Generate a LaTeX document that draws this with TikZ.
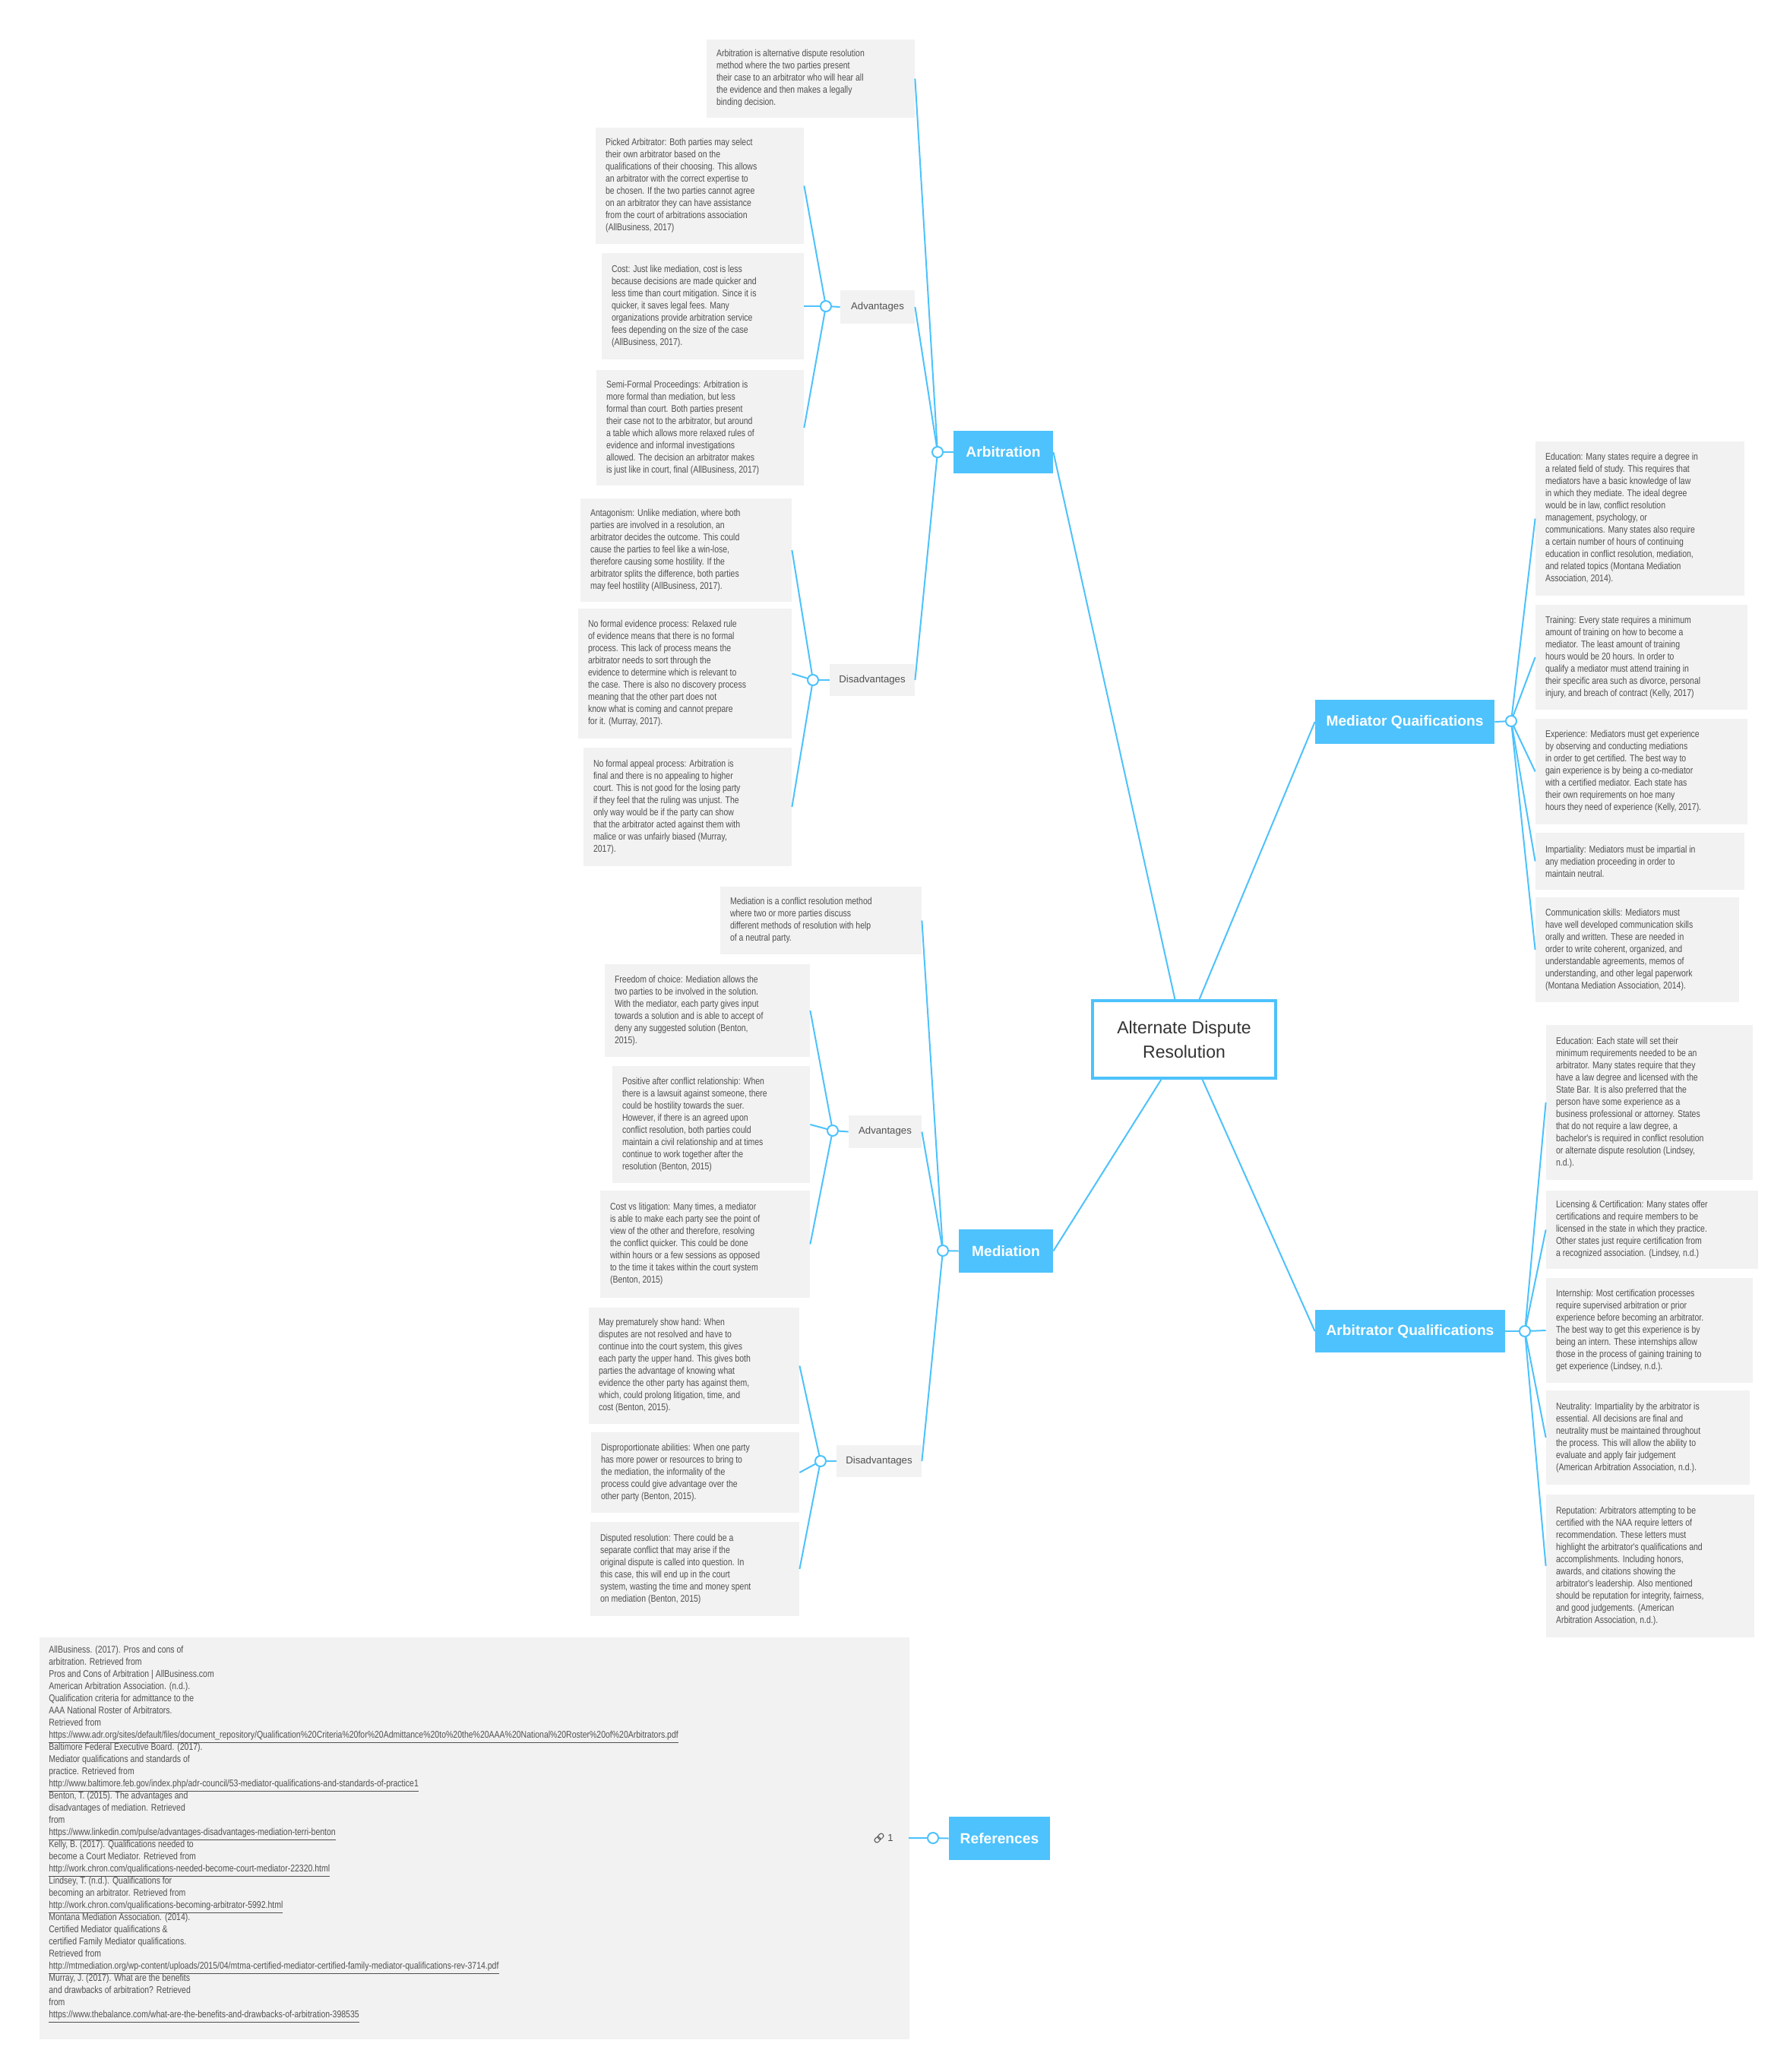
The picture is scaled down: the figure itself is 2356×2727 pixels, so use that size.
\documentclass[tikz,border=0pt]{standalone}
\usepackage{fontspec}
\setmainfont{Liberation Sans}
\newfontfamily\leaffont[FakeStretch=0.82]{Liberation Sans}
\usetikzlibrary{fit}
\definecolor{mblue}{HTML}{4DC2FC}
\definecolor{lgray}{HTML}{F2F2F2}
\definecolor{tgray}{HTML}{505050}
\tikzset{
  leaf/.style={fill=lgray,draw=none,inner sep=0pt},
  leaftext/.style={text=tgray,align=left,inner sep=0pt,font=\leaffont\fontsize{6.4}{8}\selectfont},
  sublbl/.style={fill=lgray,text=tgray,inner sep=0pt,font=\fontsize{6.6}{8}\selectfont},
  mainbox/.style={fill=mblue,text=white,inner sep=0pt,font=\bfseries\fontsize{9.6}{11}\selectfont},
  conn/.style={draw=mblue,line width=1pt},
  dot/.style={circle,draw=mblue,fill=white,line width=1pt,minimum size=7pt,inner sep=0pt},
}
\newcommand\leafbox[6]{\node[leaf,fit={(#2,#3) (#4,#5)}] (#1) {};
  \node[leaftext,anchor=west] at ([xshift=6.5pt]#1.west) {#6};}
\newcommand\subbox[6]{\node[sublbl,fit={(#2,#3) (#4,#5)}] (#1) {};
  \node[text=tgray,font=\fontsize{6.6}{8}\selectfont,inner sep=0pt] at (#1.center) {#6};}
\newcommand\mainnode[6]{\node[mainbox,fit={(#2,#3) (#4,#5)}] (#1) {};
  \node[text=white,font=\bfseries\fontsize{9.6}{11}\selectfont,inner sep=0pt] at (#1.center) {#6};}
\newcommand\lk[1]{\underline{#1}}
\begin{document}
\begin{tikzpicture}[x=0.5pt,y=-0.5pt]
\useasboundingbox (0,0) rectangle (2356,2727);
\fill[white] (0,0) rectangle (2356,2727);
% central
\node[draw=mblue,line width=1.6pt,fill=white,fit={(1438,1317) (1679,1419)},inner sep=0pt] (central) {};
\node[text=black!80,align=center,font=\fontsize{11.5}{16}\selectfont] at (central.center) {Alternate Dispute\\Resolution};
% main
\mainnode{arb}{1255}{567}{1386}{623}{Arbitration}
\mainnode{mq}{1731}{921}{1967}{979}{Mediator Quaifications}
\mainnode{aq}{1731}{1724}{1981}{1780}{Arbitrator Qualifications}
\mainnode{med}{1262}{1618}{1386}{1675}{Mediation}
\mainnode{refs}{1249}{2391}{1382}{2448}{References}
% arbitration leaves
\leafbox{arbd}{930}{52}{1204}{155}{Arbitration is alternative dispute resolution\\method where the two parties present\\their case to an arbitrator who will hear all\\the evidence and then makes a legally\\binding decision.}
\subbox{aadv}{1106}{382}{1204}{426}{Advantages}
\leafbox{pick}{784}{168}{1058}{321}{Picked Arbitrator: Both parties may select\\their own arbitrator based on the\\qualifications of their choosing. This allows\\an arbitrator with the correct expertise to\\be chosen. If the two parties cannot agree\\on an arbitrator they can have assistance\\from the court of arbitrations association\\(AllBusiness, 2017)}
\leafbox{acost}{792}{333}{1058}{473}{Cost: Just like mediation, cost is less\\because decisions are made quicker and\\less time than court mitigation. Since it is\\quicker, it saves legal fees. Many\\organizations provide arbitration service\\fees depending on the size of the case\\(AllBusiness, 2017).}
\leafbox{semi}{785}{487}{1058}{639}{Semi-Formal Proceedings: Arbitration is\\more formal than mediation, but less\\formal than court. Both parties present\\their case not to the arbitrator, but around\\a table which allows more relaxed rules of\\evidence and informal investigations\\allowed. The decision an arbitrator makes\\is just like in court, final (AllBusiness, 2017)}
\subbox{adis}{1092}{874}{1204}{916}{Disadvantages}
\leafbox{anta}{764}{656}{1042}{792}{Antagonism: Unlike mediation, where both\\parties are involved in a resolution, an\\arbitrator decides the outcome. This could\\cause the parties to feel like a win-lose,\\therefore causing some hostility. If the\\arbitrator splits the difference, both parties\\may feel hostility (AllBusiness, 2017).}
\leafbox{noev}{761}{801}{1042}{972}{No formal evidence process: Relaxed rule\\of evidence means that there is no formal\\process. This lack of process means the\\arbitrator needs to sort through the\\evidence to determine which is relevant to\\the case. There is also no discovery process\\meaning that the other part does not\\know what is coming and cannot prepare\\for it. (Murray, 2017).}
\leafbox{noap}{768}{984}{1042}{1140}{No formal appeal process: Arbitration is\\final and there is no appealing to higher\\court. This is not good for the losing party\\if they feel that the ruling was unjust. The\\only way would be if the party can show\\that the arbitrator acted against them with\\malice or was unfairly biased (Murray,\\2017).}
% mediator qualifications
\leafbox{medu}{2021}{581}{2296}{784}{Education: Many states require a degree in\\a related field of study. This requires that\\mediators have a basic knowledge of law\\in which they mediate. The ideal degree\\would be in law, conflict resolution\\management, psychology, or\\communications. Many states also require\\a certain number of hours of continuing\\education in conflict resolution, mediation,\\and related topics (Montana Mediation\\Association, 2014).}
\leafbox{mtrain}{2021}{796}{2300}{934}{Training: Every state requires a minimum\\amount of training on how to become a\\mediator. The least amount of training\\hours would be 20 hours. In order to\\qualify a mediator must attend training in\\their specific area such as divorce, personal\\injury, and breach of contract (Kelly, 2017)}
\leafbox{mexp}{2021}{946}{2300}{1085}{Experience: Mediators must get experience\\by observing and conducting mediations\\in order to get certified. The best way to\\gain experience is by being a co-mediator\\with a certified mediator. Each state has\\their own requirements on hoe many\\hours they need of experience (Kelly, 2017).}
\leafbox{mimp}{2021}{1096}{2296}{1171}{Impartiality: Mediators must be impartial in\\any mediation proceeding in order to\\maintain neutral.}
\leafbox{mcom}{2021}{1181}{2289}{1319}{Communication skills: Mediators must\\have well developed communication skills\\orally and written. These are needed in\\order to write coherent, organized, and\\understandable agreements, memos of\\understanding, and other legal paperwork\\(Montana Mediation Association, 2014).}
% arbitrator qualifications
\leafbox{aedu}{2035}{1349}{2307}{1553}{Education: Each state will set their\\minimum requirements needed to be an\\arbitrator. Many states require that they\\have a law degree and licensed with the\\State Bar. It is also preferred that the\\person have some experience as a\\business professional or attorney. States\\that do not require a law degree, a\\bachelor's is required in conflict resolution\\or alternate dispute resolution (Lindsey,\\n.d.).}
\leafbox{alic}{2035}{1567}{2314}{1670}{Licensing \& Certification: Many states offer\\certifications and require members to be\\licensed in the state in which they practice.\\Other states just require certification from\\a recognized association. (Lindsey, n.d.)}
\leafbox{aint}{2035}{1682}{2307}{1820}{Internship: Most certification processes\\require supervised arbitration or prior\\experience before becoming an arbitrator.\\The best way to get this experience is by\\being an intern. These internships allow\\those in the process of gaining training to\\get experience (Lindsey, n.d.).}
\leafbox{aneu}{2035}{1830}{2303}{1954}{Neutrality: Impartiality by the arbitrator is\\essential. All decisions are final and\\neutrality must be maintained throughout\\the process. This will allow the ability to\\evaluate and apply fair judgement\\(American Arbitration Association, n.d.).}
\leafbox{arep}{2035}{1967}{2309}{2155}{Reputation: Arbitrators attempting to be\\certified with the NAA require letters of\\recommendation. These letters must\\highlight the arbitrator's qualifications and\\accomplishments. Including honors,\\awards, and citations showing the\\arbitrator's leadership. Also mentioned\\should be reputation for integrity, fairness,\\and good judgements. (American\\Arbitration Association, n.d.).}
% mediation leaves
\leafbox{medd}{948}{1167}{1213}{1256}{Mediation is a conflict resolution method\\where two or more parties discuss\\different methods of resolution with help\\of a neutral party.}
\subbox{madv}{1117}{1468}{1213}{1511}{Advantages}
\leafbox{free}{796}{1269}{1066}{1391}{Freedom of choice: Mediation allows the\\two parties to be involved in the solution.\\With the mediator, each party gives input\\towards a solution and is able to accept of\\deny any suggested solution (Benton,\\2015).}
\leafbox{posi}{806}{1403}{1066}{1557}{Positive after conflict relationship: When\\there is a lawsuit against someone, there\\could be hostility towards the suer.\\However, if there is an agreed upon\\conflict resolution, both parties could\\maintain a civil relationship and at times\\continue to work together after the\\resolution (Benton, 2015)}
\leafbox{mcost}{790}{1567}{1066}{1708}{Cost vs litigation: Many times, a mediator\\is able to make each party see the point of\\view of the other and therefore, resolving\\the conflict quicker. This could be done\\within hours or a few sessions as opposed\\to the time it takes within the court system\\(Benton, 2015)}
\subbox{mdis}{1101}{1902}{1213}{1944}{Disadvantages}
\leafbox{may}{775}{1721}{1052}{1874}{May prematurely show hand: When\\disputes are not resolved and have to\\continue into the court system, this gives\\each party the upper hand. This gives both\\parties the advantage of knowing what\\evidence the other party has against them,\\which, could prolong litigation, time, and\\cost (Benton, 2015).}
\leafbox{disp}{778}{1885}{1052}{1991}{Disproportionate abilities: When one party\\has more power or resources to bring to\\the mediation, the informality of the\\process could give advantage over the\\other party (Benton, 2015).}
\leafbox{dres}{777}{2003}{1052}{2127}{Disputed resolution: There could be a\\separate conflict that may arise if the\\original dispute is called into question. In\\this case, this will end up in the court\\system, wasting the time and money spent\\on mediation (Benton, 2015)}
% references
\node[leaf,fit={(52,2155) (1197,2684)}] (refbox) {};
\node[leaftext,anchor=north west] at (64,2166) {AllBusiness. (2017). Pros and cons of\\arbitration. Retrieved from\\Pros and Cons of Arbitration | AllBusiness.com\\American Arbitration Association. (n.d.).\\Qualification criteria for admittance to the\\AAA National Roster of Arbitrators.\\Retrieved from\\\lk{https://www.adr.org/sites/default/files/document\_repository/Qualification\%20Criteria\%20for\%20Admittance\%20to\%20the\%20AAA\%20National\%20Roster\%20of\%20Arbitrators.pdf}\\Baltimore Federal Executive Board. (2017).\\Mediator qualifications and standards of\\practice. Retrieved from\\\lk{http://www.baltimore.feb.gov/index.php/adr-council/53-mediator-qualifications-and-standards-of-practice1}\\Benton, T. (2015). The advantages and\\disadvantages of mediation. Retrieved\\from\\\lk{https://www.linkedin.com/pulse/advantages-disadvantages-mediation-terri-benton}\\Kelly, B. (2017). Qualifications needed to\\become a Court Mediator. Retrieved from\\\lk{http://work.chron.com/qualifications-needed-become-court-mediator-22320.html}\\Lindsey, T. (n.d.). Qualifications for\\becoming an arbitrator. Retrieved from\\\lk{http://work.chron.com/qualifications-becoming-arbitrator-5992.html}\\Montana Mediation Association. (2014).\\Certified Mediator qualifications \&\\certified Family Mediator qualifications.\\Retrieved from\\\lk{http://mtmediation.org/wp-content/uploads/2015/04/mtma-certified-mediator-certified-family-mediator-qualifications-rev-3714.pdf}\\Murray, J. (2017). What are the benefits\\and drawbacks of arbitration? Retrieved\\from\\\lk{https://www.thebalance.com/what-are-the-benefits-and-drawbacks-of-arbitration-398535}};
\node[text=tgray,font=\fontsize{6.6}{8}\selectfont,inner sep=0pt,anchor=west] (one) at (1168,2419) {1};
\begin{scope}[shift={(1157,2419)},rotate=45,draw=tgray,line width=0.5pt]
  \draw[rounded corners=1.3pt] (-7,-3) rectangle (1,3);
  \draw[rounded corners=1.3pt] (-1,-3) rectangle (7,3);
\end{scope}
\coordinate (refend) at (1196,2419);
% circle coordinates
\coordinate (ca) at (1234,595);
\coordinate (caadv) at (1087,403);
\coordinate (cadis) at (1070,895);
\coordinate (cmq) at (1989,949);
\coordinate (caq) at (2007,1752);
\coordinate (cm) at (1241,1646);
\coordinate (cmadv) at (1096,1488);
\coordinate (cmdis) at (1080,1923);
\coordinate (cr) at (1228,2419);
% connectors
\draw[conn] ([xshift=-6pt]central.north) -- (arb.east);
\draw[conn] ([xshift=10pt]central.north) -- (mq.west);
\draw[conn] ([xshift=-15pt]central.south) -- (med.east);
\draw[conn] ([xshift=12pt]central.south) -- (aq.west);
\draw[conn] (arb.west) -- (ca);
\foreach \c in {arbd,aadv,adis} \draw[conn] (ca) -- (\c.east);
\draw[conn] (aadv.west) -- (caadv);
\foreach \c in {pick,acost,semi} \draw[conn] (caadv) -- (\c.east);
\draw[conn] (adis.west) -- (cadis);
\foreach \c in {anta,noev,noap} \draw[conn] (cadis) -- (\c.east);
\draw[conn] (mq.east) -- (cmq);
\foreach \c in {medu,mtrain,mexp,mimp,mcom} \draw[conn] (cmq) -- (\c.west);
\draw[conn] (aq.east) -- (caq);
\foreach \c in {aedu,alic,aint,aneu,arep} \draw[conn] (caq) -- (\c.west);
\draw[conn] (med.west) -- (cm);
\foreach \c in {medd,madv,mdis} \draw[conn] (cm) -- (\c.east);
\draw[conn] (madv.west) -- (cmadv);
\foreach \c in {free,posi,mcost} \draw[conn] (cmadv) -- (\c.east);
\draw[conn] (mdis.west) -- (cmdis);
\foreach \c in {may,disp,dres} \draw[conn] (cmdis) -- (\c.east);
\draw[conn] (refs.west) -- (cr) -- (refend);
% circles
\foreach \c in {ca,caadv,cadis,cmq,caq,cm,cmadv,cmdis,cr} \node[dot] at (\c) {};
\end{tikzpicture}
\end{document}
